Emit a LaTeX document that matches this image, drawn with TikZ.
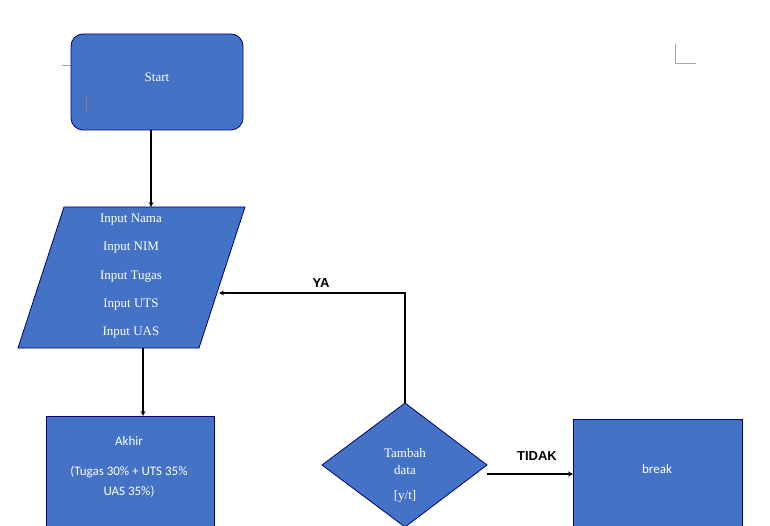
\documentclass[tikz,border=0pt]{standalone}
\usepackage{fontspec}
\setmainfont{Liberation Serif}
\newfontfamily\calfnt{Carlito}
\newfontfamily\arl{Liberation Sans}
\begin{document}
\begin{tikzpicture}[x=1pt,y=-1pt,
  box/.style={draw=blue!50!black,fill=fblue,line width=0.8pt},
  lab/.style={text=white,font=\fontsize{13}{15}\selectfont},
  arr/.style={line width=1.2pt,-stealth},
  yn/.style={font=\arl\bfseries\fontsize{13}{15}\selectfont}]
\definecolor{fblue}{HTML}{4472C4}
\useasboundingbox (0,0) rectangle (770,526);
\clip (0,0) rectangle (770,526);
\draw[gray!70] (675,44) -- (675,63) -- (696,63);
\draw[gray!70] (62,65) -- (71,65);
\node[box,rounded corners=12pt,minimum width=172,minimum height=96] (start) at (157,82) {};
\node[lab] at (157,77) {Start};
\draw[gray] (86,96) -- (86,112);
\coordinate (p1) at (64,207); \coordinate (p2) at (245,207);
\coordinate (p3) at (199,348); \coordinate (p4) at (18,348);
\draw[box] (p1) -- (p2) -- (p3) -- (p4) -- cycle;
\node[lab] (in1) at (131,220) {Input Nama};
\node[lab] (in2) at (131,248) {Input NIM};
\node[lab] (in3) at (131,277) {Input Tugas};
\node[lab] (in4) at (131,305) {Input UTS};
\node[lab] (in5) at (131,333) {Input UAS};
\coordinate (inright) at (219,293);
\node[box,minimum width=168,minimum height=130,anchor=north west] (akhir) at (46,416) {};
\node[lab,font=\calfnt\fontsize{13}{15}\selectfont] at (129,441) {Akhir};
\node[lab,font=\calfnt\fontsize{13}{15}\selectfont] at (129,472) {(Tugas 30\% + UTS 35\%};
\node[lab,font=\calfnt\fontsize{13}{15}\selectfont] at (129,492) {UAS 35\%)};
\draw[box] (405,403) -- (487,465) -- (405,527) -- (322,465) -- cycle;
\coordinate (dtop) at (405,403); \coordinate (dright) at (487,474);
\node[lab] at (405,453) {Tambah};
\node[lab] at (405,470) {data};
\node[lab] at (405,496) {[y/t]};
\node[box,minimum width=169,minimum height=130,anchor=north west] (brk) at (573,419) {};
\node[lab,font=\calfnt\fontsize{13}{15}\selectfont] at (657,469) {break};
\coordinate (s1) at (151,130); \coordinate (s2) at (151,207);
\draw[arr] (s1) -- (s2);
\coordinate (q1) at (143,348); \coordinate (q2) at (143,416);
\draw[arr] (q1) -- (q2);
\coordinate (corner) at (405,293);
\draw[arr] (dtop) -- (corner) -- (inright);
\coordinate (bl) at (573,474);
\draw[arr] (dright) -- (bl);
\node[yn] at (321,283) {YA};
\node[yn] at (537,456) {TIDAK};
\end{tikzpicture}
\end{document}
